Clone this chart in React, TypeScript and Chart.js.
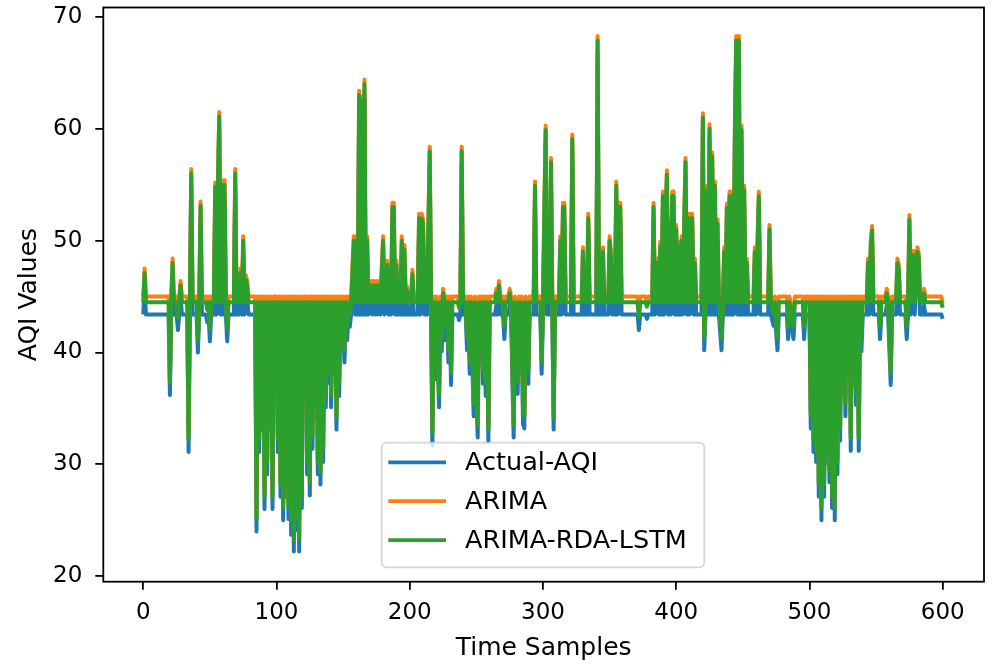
import React, { useEffect, useRef } from 'react';
import { Chart, registerables } from 'chart.js';

Chart.register(...registerables);
Chart.defaults.font.family = "'DejaVu Sans', sans-serif";

// flat levels each series sits on between events
const A = 43.4; // Actual-AQI
const O = 45.0; // ARIMA
const G = 44.5; // ARIMA-RDA-LSTM

const sampleIdx = [
  // 0-80
  0, 1, 2, 19, 20, 21, 22, 23, 25, 26, 27, 28, 29, 33, 34, 35, 36, 37, 40, 41, 42, 43, 44, 47, 48, 49, 50, 51, 53, 54, 55, 56, 57, 58, 59, 60, 61, 62, 63, 64, 68, 69, 70, 71, 72, 73, 74, 75, 76, 77, 78, 79,
  // 84-156
  84, 85, 86, 87, 88, 89, 90, 91, 92, 93, 94, 95, 96, 97, 98, 99, 100, 101, 102, 103, 104, 105, 106, 107, 108, 109, 110, 111, 112, 113, 114, 115, 116, 117, 118, 119, 120, 121, 122, 123, 124, 125, 126, 127, 128, 129, 130, 131, 132, 133, 134, 135, 136, 137, 138, 139, 140, 141, 142, 143, 144, 145, 146, 147, 148, 149, 150, 151, 152, 153, 154, 155, 156,
  // 158-218
  158, 159, 160, 161, 162, 163, 164, 165, 166, 167, 168, 169, 171, 172, 173, 174, 175, 176, 177, 178, 180, 181, 182, 183, 184, 185, 186, 187, 188, 189, 190, 191, 192, 193, 194, 195, 196, 197, 198, 199, 201, 202, 203, 206, 207, 208, 209, 210, 211, 212, 213, 215, 216, 217, 218,
  // 219-300
  219, 220, 222, 223, 224, 225, 226, 227, 228, 229, 230, 231, 232, 236, 237, 238, 239, 240, 242, 243, 244, 245, 246, 248, 249, 250, 251, 252, 253, 254, 255, 256, 257, 258, 259, 260, 264, 265, 266, 267, 268, 270, 271, 272, 274, 275, 276, 278, 279, 280, 281, 282, 283, 284, 285, 286, 287, 288, 289, 290, 293, 294, 295, 298, 299, 300,
  // 302-359
  302, 303, 304, 305, 306, 307, 308, 309, 312, 313, 314, 315, 316, 317, 321, 322, 323, 329, 330, 331, 333, 334, 335, 340, 341, 342, 344, 345, 346, 349, 350, 351, 352, 354, 355, 356, 357, 358, 359,
  // 371-415
  371, 372, 373, 377, 378, 379, 382, 383, 384, 385, 386, 387, 388, 389, 390, 391, 392, 393, 394, 395, 396, 397, 398, 399, 400, 401, 402, 403, 404, 405, 406, 407, 408, 409, 410, 411, 412, 413, 414, 415,
  // 419-471
  419, 420, 421, 422, 423, 424, 425, 426, 427, 428, 429, 430, 431, 432, 434, 435, 436, 437, 438, 439, 440, 441, 442, 443, 444, 445, 446, 447, 448, 449, 450, 451, 452, 453, 454, 458, 459, 460, 461, 462, 463, 469, 470, 471,
  // 473-497
  473, 474, 476, 477, 483, 484, 485, 487, 488, 489, 495, 496, 497,
  // 500-540
  500, 501, 502, 503, 504, 505, 506, 507, 508, 509, 510, 511, 512, 513, 514, 515, 516, 517, 518, 519, 520, 521, 522, 523, 524, 525, 526, 527, 528, 529, 530, 531, 532, 533, 534, 535, 536, 537, 538, 539, 540,
  // 543-600
  543, 544, 545, 546, 547, 548, 552, 553, 554, 557, 558, 559, 561, 562, 565, 566, 567, 568, 572, 573, 574, 575, 576, 577, 578, 579, 580, 581, 582, 583, 585, 586, 587, 599, 600,
];

const actualAqi = [
  A, 46.0, A, A, 36.2, A, 46.9, A, A, 42.0, A, 44.9, A, A, 31.1, A, 54.9, A, A, 40.0, A, 52.0, A, A, 42.7, A, 41.0, A, A, 53.7, A, 53.4, 60.0, A, 53.9, A, 53.9, A, 41.0, A, A, 54.9, A, 45.4, A, 46.0, A, 48.9, A, 45.4, 44.9, A,
  A, 24.0, A, 31.1, A, 33.1, A, 26.0, A, 29.1, A, 33.1, A, 26.0, A, A, A, 31.1, A, 27.1, A, 25.0, A, 27.1, A, 25.1, A, 23.7, A, 22.2, A, 24.1, A, 22.2, A, 26.1, A, A, A, 29.1, A, 27.2, A, 31.4, A, 34.1, A, 29.1, A, 28.2, A, 30.2, A, 35.1, A, 37.3, A, 35.1, A, 38.1, A, 33.1, A, 36.1, A, 40.1, A, 39.1, A, 41.1, A, 42.3, A,
  48.9, A, 48.9, A, 61.9, A, 61.4, A, 62.9, A, 48.9, A, 44.9, A, 44.9, A, 44.9, A, 44.9, A, 48.9, A, 46.7, 46.7, A, 46.4, A, 51.9, 51.9, A, 46.7, A, 45.4, A, 48.9, A, 48.1, A, 44.4, A, A, 45.9, A, A, 50.9, A, 50.9, 50.4, A, 45.8, A, 56.9, A, 31.7, A,
  37.6, A, 35.1, A, 40.1, 44.2, A, 41.1, A, 39.1, A, 37.1, A, A, 42.9, A, 56.9, A, A, 40.2, A, 38.1, A, 34.3, A, 36.1, 32.4, A, 39.1, A, 37.2, A, 36.1, A, 32.0, A, A, 44.2, A, 44.9, A, A, 41.2, A, A, 44.2, A, 32.4, A, 36.6, 36.3, A, 38.1, A, 33.6, 33.2, A, 37.6, 37.2, A, A, 53.8, A, A, 38.1, A,
  58.8, A, 46.4, A, 55.9, A, 33.1, A, A, 48.9, A, 51.9, 51.9, A, A, 58.0, A, A, 47.9, A, A, 50.9, A, A, 66.8, A, A, 47.9, A, A, 48.9, 47.4, A, A, 53.8, A, 51.9, 51.9, A,
  A, 42.0, A, A, 43.0, A, A, 51.9, A, 46.9, 46.9, A, 48.4, A, 52.9, A, 50.4, 54.8, A, 50.4, A, 52.9, 52.9, A, 49.9, A, 48.4, A, 48.9, A, 50.4, 55.9, A, 50.9, A, 50.9, 50.9, A, 46.9, A,
  A, 59.9, 40.2, A, 53.4, A, 58.9, A, 56.4, A, 53.8, A, 50.4, A, 40.2, A, 47.9, A, 51.8, A, 52.9, A, 52.9, A, 58.4, 66.8, A, 66.8, A, 58.8, A, 53.4, A, 46.9, A, A, 47.9, A, 48.4, 52.9, A, A, 49.9, A,
  42.4, A, 40.2, A, A, 41.2, A, 42.0, 41.2, A, A, 41.2, A,
  A, 33.2, A, 31.1, A, 30.2, A, 27.1, A, 25.0, A, 27.1, A, 30.1, A, 28.4, A, 26.1, A, 25.0, A, 29.1, A, 32.1, A, 36.1, A, 34.3, A, 38.1, A, 31.2, A, 37.1, A, 35.3, A, 31.2, A, 40.1, A,
  A, 46.9, A, 48.4, 49.8, A, A, 41.2, A, A, 44.2, A, 37.1, A, A, 46.9, 46.4, A, A, 41.2, A, 50.8, A, 46.4, 47.6, A, 46.4, 47.9, 47.4, A, A, 44.2, A, A, 43.0,
];

const arimaAqi = [
  O, 47.5, O, O, 37.7, O, 48.4, O, O, 43.5, O, 46.4, O, O, 32.6, O, 56.4, O, O, 41.5, O, 53.5, O, O, 44.2, O, 42.5, O, O, 55.2, O, 54.9, 61.5, O, 55.4, O, 55.4, O, 42.5, O, O, 56.4, O, 46.9, O, 47.5, O, 50.4, O, 46.9, 46.4, O,
  O, 25.5, O, 32.6, O, 34.6, O, 27.5, O, 30.6, O, 34.6, O, 27.5, O, O, O, 32.6, O, 28.6, O, 26.5, O, 28.6, O, 26.6, O, 25.2, O, 23.7, O, 25.6, O, 23.7, O, 27.6, O, O, O, 30.6, O, 28.7, O, 32.9, O, 35.6, O, 30.6, O, 29.7, O, 31.7, O, 36.6, O, 38.8, O, 36.6, O, 39.6, O, 34.6, O, 37.6, O, 41.6, O, 40.6, O, 42.6, O, 43.8, O,
  50.4, O, 50.4, O, 63.4, O, 62.9, O, 64.4, O, 50.4, O, 46.4, O, 46.4, O, 46.4, O, 46.4, O, 50.4, O, 48.2, 48.2, O, 47.9, O, 53.4, 53.4, O, 48.2, O, 46.9, O, 50.4, O, 49.6, O, 45.9, O, O, 47.4, O, O, 52.4, O, 52.4, 51.9, O, 47.3, O, 58.4, O, 33.2, O,
  39.1, O, 36.6, O, 41.6, 45.7, O, 42.6, O, 40.6, O, 38.6, O, O, 44.4, O, 58.4, O, O, 41.7, O, 39.6, O, 35.8, O, 37.6, 33.9, O, 40.6, O, 38.7, O, 37.6, O, 33.5, O, O, 45.7, O, 46.4, O, O, 42.7, O, O, 45.7, O, 33.9, O, 38.1, 37.8, O, 39.6, O, 35.1, 34.7, O, 39.1, 38.7, O, O, 55.3, O, O, 39.6, O,
  60.3, O, 47.9, O, 57.4, O, 34.6, O, O, 50.4, O, 53.4, 53.4, O, O, 59.5, O, O, 49.4, O, O, 52.4, O, O, 68.3, O, O, 49.4, O, O, 50.4, 48.9, O, O, 55.3, O, 53.4, 53.4, O,
  O, 43.5, O, O, 44.5, O, O, 53.4, O, 48.4, 48.4, O, 49.9, O, 54.4, O, 51.9, 56.3, O, 51.9, O, 54.4, 54.4, O, 51.4, O, 49.9, O, 50.4, O, 51.9, 57.4, O, 52.4, O, 52.4, 52.4, O, 48.4, O,
  O, 61.4, 41.7, O, 54.9, O, 60.4, O, 57.9, O, 55.3, O, 51.9, O, 41.7, O, 49.4, O, 53.3, O, 54.4, O, 54.4, O, 59.9, 68.3, O, 68.3, O, 60.3, O, 54.9, O, 48.4, O, O, 49.4, O, 49.9, 54.4, O, O, 51.4, O,
  43.9, O, 41.7, O, O, 42.7, O, 43.5, 42.7, O, O, 42.7, O,
  O, 34.7, O, 32.6, O, 31.7, O, 28.6, O, 26.5, O, 28.6, O, 31.6, O, 29.9, O, 27.6, O, 26.5, O, 30.6, O, 33.6, O, 37.6, O, 35.8, O, 39.6, O, 32.7, O, 38.6, O, 36.8, O, 32.7, O, 41.6, O,
  O, 48.4, O, 49.9, 51.3, O, O, 42.7, O, O, 45.7, O, 38.6, O, O, 48.4, 47.9, O, O, 42.7, O, 52.3, O, 47.9, 49.1, O, 47.9, 49.4, 48.9, O, O, 45.7, O, O, 44.4,
];

const hybridAqi = [
  G, 47.1, G, G, 37.3, G, 48.0, G, G, 43.1, G, 46.0, G, G, 32.2, G, 56.0, G, G, 41.1, G, 53.1, G, G, 43.8, G, 42.1, G, G, 54.8, G, 54.5, 61.1, G, 55.0, G, 55.0, G, 42.1, G, G, 56.0, G, 46.5, G, 47.1, G, 50.0, G, 46.5, 46.0, G,
  G, 25.1, G, 32.2, G, 34.2, G, 27.1, G, 30.2, G, 34.2, G, 27.1, G, G, G, 32.2, G, 28.2, G, 26.1, G, 28.2, G, 26.2, G, 24.8, G, 23.3, G, 25.2, G, 23.3, G, 27.2, G, G, G, 30.2, G, 28.3, G, 32.5, G, 35.2, G, 30.2, G, 29.3, G, 31.3, G, 36.2, G, 38.4, G, 36.2, G, 39.2, G, 34.2, G, 37.2, G, 41.2, G, 40.2, G, 42.2, G, 43.4, G,
  50.0, G, 50.0, G, 63.0, G, 62.5, G, 64.0, G, 50.0, G, 46.0, G, 46.0, G, 46.0, G, 46.0, G, 50.0, G, 47.8, 47.8, G, 47.5, G, 53.0, 53.0, G, 47.8, G, 46.5, G, 50.0, G, 49.2, G, 45.5, G, G, 47.0, G, G, 52.0, G, 52.0, 51.5, G, 46.9, G, 58.0, G, 32.8, G,
  38.7, G, 36.2, G, 41.2, 45.3, G, 42.2, G, 40.2, G, 38.2, G, G, 44.0, G, 58.0, G, G, 41.3, G, 39.2, G, 35.4, G, 37.2, 33.5, G, 40.2, G, 38.3, G, 37.2, G, 33.1, G, G, 45.3, G, 46.0, G, G, 42.3, G, G, 45.3, G, 33.5, G, 37.7, 37.4, G, 39.2, G, 34.7, 34.3, G, 38.7, 38.3, G, G, 54.9, G, G, 39.2, G,
  59.9, G, 47.5, G, 57.0, G, 34.2, G, G, 50.0, G, 53.0, 53.0, G, G, 59.1, G, G, 49.0, G, G, 52.0, G, G, 67.9, G, G, 49.0, G, G, 50.0, 48.5, G, G, 54.9, G, 53.0, 53.0, G,
  G, 43.1, G, G, 44.1, G, G, 53.0, G, 48.0, 48.0, G, 49.5, G, 54.0, G, 51.5, 55.9, G, 51.5, G, 54.0, 54.0, G, 51.0, G, 49.5, G, 50.0, G, 51.5, 57.0, G, 52.0, G, 52.0, 52.0, G, 48.0, G,
  G, 61.0, 41.3, G, 54.5, G, 60.0, G, 57.5, G, 54.9, G, 51.5, G, 41.3, G, 49.0, G, 52.9, G, 54.0, G, 54.0, G, 59.5, 67.9, G, 67.9, G, 59.9, G, 54.5, G, 48.0, G, G, 49.0, G, 49.5, 54.0, G, G, 51.0, G,
  43.5, G, 41.3, G, G, 42.3, G, 43.1, 42.3, G, G, 42.3, G,
  G, 34.3, G, 32.2, G, 31.3, G, 28.2, G, 26.1, G, 28.2, G, 31.2, G, 29.5, G, 27.2, G, 26.1, G, 30.2, G, 33.2, G, 37.2, G, 35.4, G, 39.2, G, 32.3, G, 38.2, G, 36.4, G, 32.3, G, 41.2, G,
  G, 48.0, G, 49.5, 50.9, G, G, 42.3, G, G, 45.3, G, 38.2, G, G, 48.0, 47.5, G, G, 42.3, G, 51.9, G, 47.5, 48.7, G, 47.5, 49.0, 48.5, G, G, 45.3, G, G, 44.0,
];

const xTicks = [0, 100, 200, 300, 400, 500, 600];
const yTicks = [20, 30, 40, 50, 60, 70];

const seriesNames = ['Actual-AQI', 'ARIMA', 'ARIMA-RDA-LSTM'];
const seriesColors = ['#1f77b4', '#ff7f0e', '#2ca02c'];

const toPoints = (ys: number[]) => sampleIdx.map((x, i) => ({ x, y: ys[i] }));

// matplotlib style box round the axes plus the in-plot legend
const boxPlugin = {
  id: 'mplBox',
  afterDraw(chart: any) {
    const { ctx, chartArea: c } = chart;
    ctx.save();

    const lx = c.left + 278.4;
    const ly = c.bottom - 139;
    ctx.beginPath();
    ctx.roundRect(lx, ly, 322.6, 124.7, 5);
    ctx.fillStyle = 'rgba(255,255,255,0.8)';
    ctx.fill();
    ctx.strokeStyle = 'rgba(204,204,204,0.8)';
    ctx.lineWidth = 1.8;
    ctx.stroke();

    ctx.font = "25.5px 'DejaVu Sans', sans-serif";
    ctx.textBaseline = 'middle';
    ctx.textAlign = 'left';
    seriesNames.forEach((name, i) => {
      const y = ly + 19.6 + i * 38.9;
      ctx.beginPath();
      ctx.moveTo(lx + 6.6, y);
      ctx.lineTo(lx + 64.3, y);
      ctx.strokeStyle = seriesColors[i];
      ctx.lineWidth = 3.8;
      ctx.stroke();
      ctx.fillStyle = '#000';
      ctx.fillText(name, lx + 83.3, y + 1);
    });

    ctx.strokeStyle = '#000';
    ctx.lineWidth = 1.8;
    ctx.strokeRect(c.left, c.top, c.right - c.left, c.bottom - c.top);
    ctx.restore();
  },
};

export default function App() {
  const canvasRef = useRef<HTMLCanvasElement>(null);

  useEffect(() => {
    if (!canvasRef.current) return;
    const line = {
      borderWidth: 4,
      pointRadius: 0,
      tension: 0,
      fill: false,
      borderJoinStyle: 'round' as const,
      borderCapStyle: 'butt' as const,
    };
    const chart = new Chart(canvasRef.current, {
      type: 'line',
      data: {
        datasets: [
          { ...line, label: seriesNames[0], data: toPoints(actualAqi), borderColor: seriesColors[0], order: 3 },
          { ...line, label: seriesNames[1], data: toPoints(arimaAqi), borderColor: seriesColors[1], order: 2 },
          { ...line, label: seriesNames[2], data: toPoints(hybridAqi), borderColor: seriesColors[2], order: 1 },
        ],
      },
      options: {
        animation: false,
        responsive: false,
        devicePixelRatio: 1,
        events: [],
        layout: { autoPadding: false, padding: { left: 0, top: 7.5, right: 12, bottom: 0 } },
        plugins: { legend: { display: false }, tooltip: { enabled: false } },
        scales: {
          x: {
            type: 'linear',
            min: -30,
            max: 631,
            afterBuildTicks: (s: any) => {
              s.ticks = xTicks.map((v) => ({ value: v }));
            },
            afterFit: (s: any) => {
              s.height = 87.3;
              s.paddingLeft = 0;
              s.paddingRight = 0;
            },
            ticks: { color: '#000', font: { size: 23 }, padding: 10, maxRotation: 0, autoSkip: false },
            grid: { drawOnChartArea: false, drawTicks: true, tickLength: 8, color: '#000', lineWidth: 1.8 },
            border: { display: false },
            title: { display: true, text: 'Time Samples', color: '#000', font: { size: 25 }, padding: { top: 0, bottom: 6 } },
          },
          y: {
            type: 'linear',
            min: 19.5,
            max: 70.85,
            afterBuildTicks: (s: any) => {
              s.ticks = yTicks.map((v) => ({ value: v }));
            },
            afterFit: (s: any) => {
              s.width = 103.3;
              s.paddingTop = 0;
              s.paddingBottom = 0;
            },
            ticks: { color: '#000', font: { size: 23 }, padding: 13 },
            grid: { drawOnChartArea: false, drawTicks: true, tickLength: 8, color: '#000', lineWidth: 1.8 },
            border: { display: false },
            title: { display: true, text: 'AQI Values', color: '#000', font: { size: 25 }, padding: { top: 14, bottom: 0 } },
          },
        },
      },
      plugins: [boxPlugin],
    });
    return () => {
      chart.destroy();
    };
  }, []);

  return (
    <div style={{ position: 'absolute', left: 0, top: 0, width: 996, height: 669, background: '#fff' }}>
      <canvas ref={canvasRef} width={996} height={669} />
    </div>
  );
}
